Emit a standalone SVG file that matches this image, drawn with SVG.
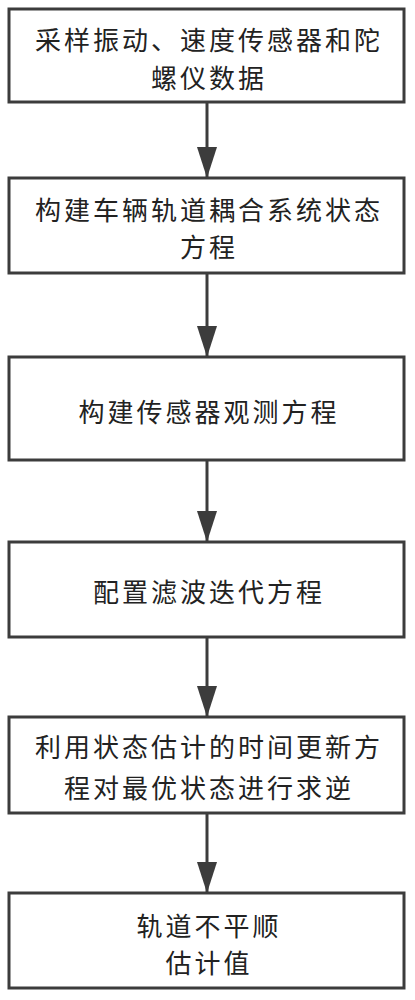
<svg xmlns="http://www.w3.org/2000/svg" width="415" height="1000" viewBox="0 0 415 1000">
<style>
.box{fill:#fff;stroke:#3c3c3c;stroke-width:3}
.t{font-family:"Noto Sans CJK SC","Noto Sans",sans-serif;font-size:26px;letter-spacing:3px;fill:#222;text-anchor:middle;dominant-baseline:central}
.c{stroke:#3c3c3c;stroke-width:3;fill:none}
</style>
<defs>
<marker id="ah" markerUnits="userSpaceOnUse" markerWidth="31" markerHeight="20" viewBox="0 0 31 20" refX="31" refY="10" orient="auto">
<path d="M0,0 L31,10 L0,20 z" fill="#3c3c3c"/>
</marker>
</defs>
<rect width="415" height="1000" fill="#fff"/>
<g id="connectors">
<line class="c" x1="207" y1="102" x2="207" y2="178" marker-end="url(#ah)"/>
<line class="c" x1="207" y1="273" x2="207" y2="357" marker-end="url(#ah)"/>
<line class="c" x1="207" y1="460" x2="207" y2="542" marker-end="url(#ah)"/>
<line class="c" x1="207" y1="637" x2="207" y2="717" marker-end="url(#ah)"/>
<line class="c" x1="207" y1="813" x2="207" y2="893" marker-end="url(#ah)"/>
</g>
<g id="n1"><rect class="box" x="9" y="9" width="395" height="93"/>
<text class="t" x="209" y="38">采样振动、速度传感器和陀</text>
<text class="t" x="209" y="76">螺仪数据</text></g>
<g id="n2"><rect class="box" x="9" y="178" width="395" height="95"/>
<text class="t" x="209" y="208">构建车辆轨道耦合系统状态</text>
<text class="t" x="209" y="245">方程</text></g>
<g id="n3"><rect class="box" x="9" y="357" width="395" height="103"/>
<text class="t" x="209" y="410">构建传感器观测方程</text></g>
<g id="n4"><rect class="box" x="9" y="542" width="395" height="95"/>
<text class="t" x="209" y="590">配置滤波迭代方程</text></g>
<g id="n5"><rect class="box" x="9" y="717" width="395" height="96"/>
<text class="t" x="209" y="745">利用状态估计的时间更新方</text>
<text class="t" x="209" y="786">程对最优状态进行求逆</text></g>
<g id="n6"><rect class="box" x="9" y="893" width="395" height="95"/>
<text class="t" x="209" y="924">轨道不平顺</text>
<text class="t" x="209" y="961">估计值</text></g>
</svg>
